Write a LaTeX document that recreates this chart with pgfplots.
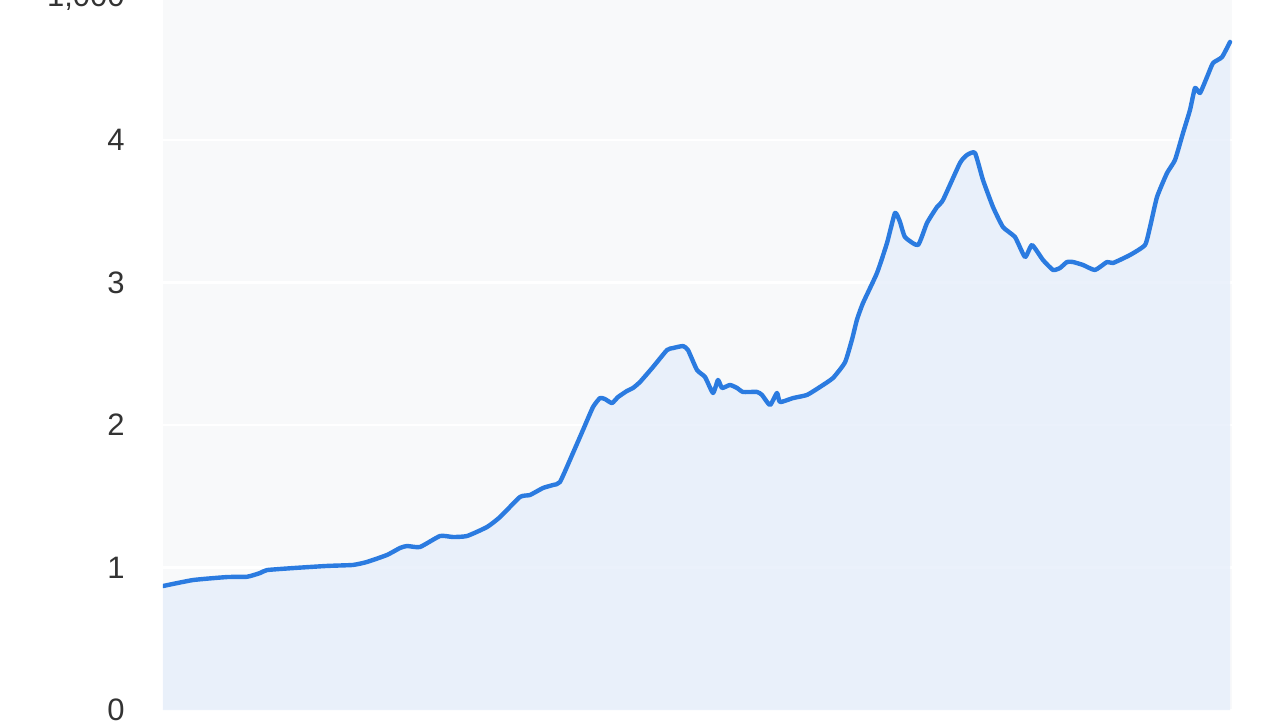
\documentclass[border=0pt]{standalone}
\usepackage{fontspec}
\setmainfont{Liberation Sans}
\usepackage{pgfplots}
\pgfplotsset{compat=1.18}
\usepackage{pgfplotstable}
\definecolor{bgcol}{HTML}{F8F9FA}
\definecolor{fillcol}{HTML}{E5EDFA}
\definecolor{linecol}{HTML}{2B7BE0}
\definecolor{labcol}{HTML}{333333}
\pgfplotstableread{
x y
163 0.870
193 0.912
227 0.933
247 0.935
260 0.961
267 0.982
293 0.996
327 1.011
353 1.018
367 1.039
387 1.088
400 1.137
407 1.151
420 1.144
440 1.221
453 1.214
467 1.221
487 1.284
500 1.354
520 1.495
530 1.509
543 1.558
553 1.579
560 1.600
573 1.804
583 1.965
593 2.126
600 2.189
605 2.182
612 2.154
618 2.196
627 2.239
633 2.260
640 2.302
653 2.407
667 2.526
673 2.540
683 2.554
688 2.526
697 2.386
705 2.337
713 2.225
718 2.316
722 2.260
730 2.281
737 2.260
743 2.232
757 2.232
762 2.211
770 2.140
777 2.225
780 2.161
793 2.189
807 2.211
820 2.267
833 2.330
845 2.440
852 2.600
857 2.740
863 2.856
877 3.067
887 3.277
895 3.488
900 3.425
905 3.319
918 3.263
927 3.418
937 3.530
943 3.579
960 3.839
967 3.895
975 3.909
983 3.719
993 3.530
1003 3.389
1015 3.319
1025 3.179
1032 3.263
1043 3.158
1053 3.088
1060 3.102
1067 3.144
1073 3.144
1083 3.123
1095 3.088
1107 3.144
1113 3.137
1130 3.193
1145 3.263
1150 3.389
1157 3.600
1167 3.768
1175 3.860
1183 4.049
1190 4.211
1195 4.365
1200 4.330
1207 4.442
1213 4.540
1222 4.582
1230 4.688
}\datatable
\begin{document}
\begin{tikzpicture}
\begin{axis}[
  at={(0,0)}, anchor=south west,
  scale only axis,
  width=534.5pt, height=356.25pt,
  xmin=163, xmax=1232, ymin=0, ymax=5,
  axis background/.style={fill=bgcol},
  axis line style={draw=none},
  xtick=\empty,
  ytick={0,1,2,3,4,5},
  yticklabels={0,1,2,3,4,{1,000}},
  major tick length=0pt,
  ymajorgrids,
  major grid style={white, line width=1.2pt},
  /pgf/number format/assume math mode=true,
  yticklabel style={anchor=east, inner sep=0pt, xshift=-19pt,
    font=\fontsize{15.5}{18}\selectfont, text=labcol},
  clip=true,
]
\addplot[draw=none, fill=fillcol, fill opacity=0.75, smooth, tension=0.3] table[x=x,y=y]{\datatable} \closedcycle;
\addplot[linecol, line width=2.2pt, line join=round, line cap=round, smooth, tension=0.3] table[x=x,y=y]{\datatable};
\end{axis}
\pgfresetboundingbox
\path[use as bounding box] (-81.5pt,-5pt) rectangle (558.5pt,355pt);
\end{tikzpicture}
\end{document}
